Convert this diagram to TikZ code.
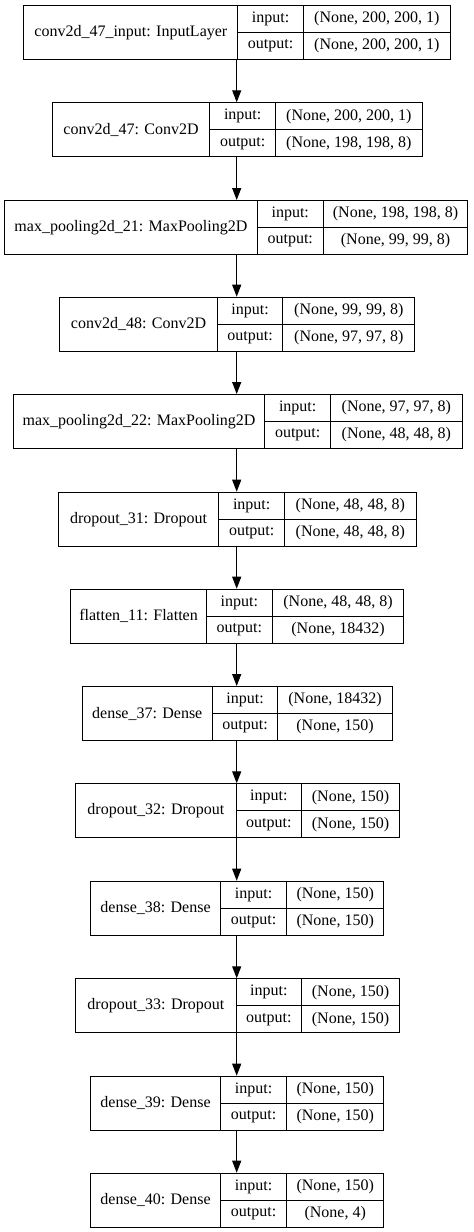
\documentclass[tikz,border=0pt]{standalone}
\usepackage{fontspec}
\setmainfont{Liberation Serif}
\usetikzlibrary{arrows.meta}
\tikzset{
  cellbox/.style={draw=black, line width=1.1pt, inner sep=0pt, anchor=north west, align=center,
    font=\fontsize{16}{18}\selectfont},
  arr/.style={line width=1.1pt, -{Triangle[length=12pt,width=9pt]}},
}
% #1 name, #2 x1, #3 d1, #4 d2, #5 x2, #6 ytop, #7 label, #8 in, #9 out
\newcommand\kerlayer[9]{%
  \node[cellbox, minimum width={#3pt-#2pt}, minimum height=54pt] (#1) at (#2,#6) {#7};
  \node[cellbox, minimum width={#4pt-#3pt}, minimum height=27pt] (#1-il) at (#3,#6) {input:};
  \node[cellbox, minimum width={#4pt-#3pt}, minimum height=27pt] (#1-ol) at (#3,#6+27) {output:};
  \node[cellbox, minimum width={#5pt-#4pt}, minimum height=27pt] (#1-iv) at (#4,#6) {#8};
  \node[cellbox, minimum width={#5pt-#4pt}, minimum height=27pt] (#1-ov) at (#4,#6+27) {#9};
}
\begin{document}
\begin{tikzpicture}[x=1pt,y=-1pt]
\useasboundingbox[fill=white] (0,0) rectangle (474,1232);
\coordinate (ax) at (236.7,0);
\kerlayer{L1}{23.3}{237.3}{302.7}{450}{5}{conv2d\_47\_input: InputLayer}{(None, 200, 200, 1)}{(None, 200, 200, 1)}
\kerlayer{L2}{51.7}{209.3}{275}{421.7}{102.3}{conv2d\_47: Conv2D}{(None, 200, 200, 1)}{(None, 198, 198, 8)}
\kerlayer{L3}{4}{256.7}{322.7}{467.3}{200}{max\_pooling2d\_21: MaxPooling2D}{(None, 198, 198, 8)}{(None, 99, 99, 8)}
\kerlayer{L4}{59.3}{216.7}{282.3}{414.3}{296.7}{conv2d\_48: Conv2D}{(None, 99, 99, 8)}{(None, 97, 97, 8)}
\kerlayer{L5}{12.7}{264.3}{330}{461.7}{394}{max\_pooling2d\_22: MaxPooling2D}{(None, 97, 97, 8)}{(None, 48, 48, 8)}
\kerlayer{L6}{57.7}{218.3}{284}{415.7}{491.7}{dropout\_31: Dropout}{(None, 48, 48, 8)}{(None, 48, 48, 8)}
\kerlayer{L7}{70}{206}{271.7}{403.3}{588.7}{flatten\_11: Flatten}{(None, 48, 48, 8)}{(None, 18432)}
\kerlayer{L8}{81.7}{211.7}{277.3}{391.7}{686}{dense\_37: Dense}{(None, 18432)}{(None, 150)}
\kerlayer{L9}{75}{235.7}{301}{399}{783.3}{dropout\_32: Dropout}{(None, 150)}{(None, 150)}
\kerlayer{L10}{90}{220}{286}{383.3}{880.7}{dense\_38: Dense}{(None, 150)}{(None, 150)}
\kerlayer{L11}{75}{235.7}{301}{399}{978.3}{dropout\_33: Dropout}{(None, 150)}{(None, 150)}
\kerlayer{L12}{90}{220}{286}{383.3}{1075.7}{dense\_39: Dense}{(None, 150)}{(None, 150)}
\kerlayer{L13}{90}{220}{286}{383.3}{1172.7}{dense\_40: Dense}{(None, 150)}{(None, 4)}
\foreach \a/\b in {L1/L2,L2/L3,L3/L4,L4/L5,L5/L6,L6/L7,L7/L8,L8/L9,L9/L10,L10/L11,L11/L12,L12/L13}
  \draw[arr] (\a.south -| ax) -- (\b.north -| ax);
\end{tikzpicture}
\end{document}
